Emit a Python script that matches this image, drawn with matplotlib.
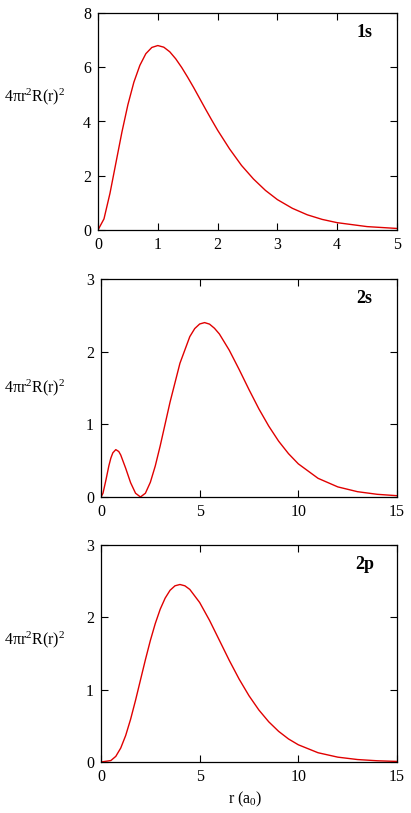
import numpy as np
import matplotlib
matplotlib.use('Agg')
import matplotlib.pyplot as plt

plt.rcParams['font.family'] = ['Liberation Serif', 'DejaVu Serif']
plt.rcParams['mathtext.default'] = 'regular'

# 1s radial probability
r_1s = [0, 0.1, 0.2, 0.3, 0.4, 0.5, 0.6, 0.7, 0.8, 0.9, 1.0, 1.1, 1.2, 1.3,
        1.4, 1.5, 1.6, 1.7, 1.8, 1.9, 2.0, 2.2, 2.4, 2.6, 2.8, 3.0, 3.25,
        3.5, 3.75, 4.0, 4.5, 5.0]
p_1s = [0, 0.41, 1.35, 2.48, 3.61, 4.62, 5.45, 6.07, 6.50, 6.73, 6.80, 6.74,
        6.57, 6.31, 5.99, 5.63, 5.25, 4.85, 4.45, 4.06, 3.68, 2.99, 2.38,
        1.88, 1.46, 1.12, 0.80, 0.56, 0.39, 0.27, 0.125, 0.057]

# 2s radial probability
r_2s = [0, 0.1, 0.25, 0.4, 0.5, 0.6, 0.75, 0.9, 1.0, 1.25, 1.5, 1.75, 2.0,
        2.25, 2.5, 2.75, 3.0, 3.5, 4.0, 4.5, 4.75, 5.0, 5.25, 5.5, 5.75, 6.0,
        6.5, 7.0, 7.5, 8.0, 8.5, 9.0, 9.5, 10.0, 11.0, 12.0, 13.0, 14.0, 15.0]
p_2s = [0, 0.051, 0.234, 0.431, 0.536, 0.608, 0.652, 0.626, 0.578, 0.396,
        0.197, 0.052, 0, 0.052, 0.202, 0.427, 0.704, 1.307, 1.84, 2.207,
        2.318, 2.381, 2.40, 2.379, 2.322, 2.243, 2.02, 1.755, 1.478, 1.213,
        0.976, 0.769, 0.597, 0.456, 0.257, 0.139, 0.073, 0.037, 0.018]

# 2p radial probability
r_2p = [0, 0.5, 0.75, 1.0, 1.25, 1.5, 1.75, 2.0, 2.25, 2.5, 2.75, 3.0, 3.25,
        3.5, 3.75, 4.0, 4.25, 4.5, 5.0, 5.5, 6.0, 6.5, 7.0, 7.5, 8.0, 8.5,
        9.0, 9.5, 10.0, 11.0, 12.0, 13.0, 14.0, 15.0]
p_2p = [0, 0.020, 0.078, 0.193, 0.366, 0.591, 0.853, 1.134, 1.414, 1.679,
        1.914, 2.112, 2.265, 2.374, 2.436, 2.454, 2.436, 2.386, 2.205, 1.958,
        1.682, 1.405, 1.146, 0.916, 0.719, 0.556, 0.424, 0.319, 0.238, 0.128,
        0.067, 0.034, 0.017, 0.008]

W, H = 411, 813
fig = plt.figure(figsize=(W / 100, H / 100), dpi=100)


def px_axes(left, top, right, bottom):
    return fig.add_axes([left / W, 1 - bottom / H, (right - left) / W,
                         (bottom - top) / H])


panels = [
    (r_1s, p_1s, '1s', (98, 13, 397, 230), 5, range(0, 6), 8, range(0, 9, 2), 97),
    (r_2s, p_2s, '2s', (101, 279, 397, 497), 15, range(0, 16, 5), 3, range(0, 4), 388),
    (r_2p, p_2p, '2p', (101, 545, 397, 762), 15, range(0, 16, 5), 3, range(0, 4), 640),
]

for r, p, name, box, xmax, xt, ymax, yt, ylab_y in panels:
    ax = px_axes(*box)
    ax.plot(r, p, color='#e00000', lw=1.0)
    ax.set_xlim(0, xmax)
    ax.set_ylim(0, ymax)
    ax.set_xticks(list(xt))
    ax.set_yticks(list(yt))
    ax.tick_params(direction='in', top=True, right=True, length=5,
                   labelsize=11.5, pad=5, width=0.8)
    for s in ax.spines.values():
        s.set_linewidth(0.9)
    ax.text(0.89, 0.91, name, transform=ax.transAxes, fontsize=13,
            fontweight='bold', ha='center', va='center')
    fig.text(35 / W, 1 - ylab_y / H, '4πr$^{2}$R(r)$^{2}$', fontsize=11.5,
             ha='center', va='center')

fig.text(245 / W, 1 - 799 / H, 'r (a$_{0}$)', fontsize=11.5,
         ha='center', va='center')

fig.savefig('out.png', dpi=100)
